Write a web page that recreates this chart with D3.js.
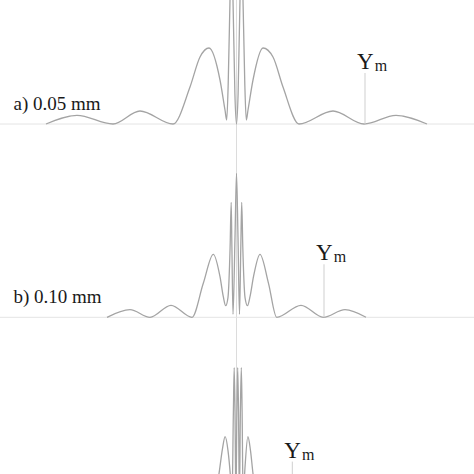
<!DOCTYPE html>
<html>
<head>
<meta charset="utf-8">
<script src="https://cdn.jsdelivr.net/npm/d3@7"></script>
<style>
  body { margin: 0; background: #fff; }
  svg { display: block; }
</style>
</head>
<body>
<script>
const d3 = window.d3

// position from the centre line, intensity above the panel baseline
// a) 0.05 mm
const posA = [-190.5, -159.5, -123.5, -96.5, -63.5, -46.5, -36.5, -27.5, -16.5, -11.5, -9.8, -8.3, -6.5, -5, -3.5, -1.6, 0,
  1.6, 3.5, 5, 6.5, 8.3, 9.8, 11.5, 16.5, 26.5, 36.5, 46.5, 62.5, 96.5, 127.5, 159.5, 190.5]
const intA = [0, 8.7, 0, 13, 0, 37, 67, 76, 44, 14, 4, 40, 124, 165, 124, 30, 0,
  30, 124, 165, 124, 40, 4, 14, 44, 76, 67, 37, 0, 13, 0, 8.7, 0]

// b) 0.10 mm
const posB = [-129.5, -106.5, -86.5, -65.5, -44.5, -33.2, -23.2, -16.5, -13.2, -10.8, -8.5, -6.4, -5.3, -4.6, -3.5, -1.5, 0,
  1.5, 3, 4.3, 5.2, 6.3, 8.5, 11, 13.5, 17, 23.5, 32, 40.2, 64.5, 86.8, 108.5, 129.5]
const intB = [0, 7.6, 0, 12, 0, 34, 63, 40.6, 20.6, 11.6, 20, 70, 115, 70, 3, 80, 144,
  80, 3, 70, 115, 70, 20, 11.6, 20.6, 40.6, 63, 34, 0, 12, 0, 7.6, 0]

// c) third slit width, only the top of it is in the picture
const posC = [-24, -17.5, -14, -11.4, -8.5, -6.2, -4.5, -3.1, -2.3, -1.5, -0.6, 0.4, 1.2, 2, 2.9, 3.9, 4.8, 5.6, 6.6,
  8.3, 11.4, 14, 16.5, 24]
const intC = [0, 37, 62, 74, 60, 36, 10, 100, 143, 100, 10, 100, 143, 100, 10, 100, 143, 100, 12,
  40, 74, 60, 37, 0]

const panelLabels = ['a) 0.05 mm', 'b) 0.10 mm']
const ymPos = [128.5, 87.5, 55.8]
const ymHeight = [51, 53, 49]

const width = 474
const height = 474
const baselines = [124, 317.3, 510.6] // pixels

const svg = d3.select('body').append('svg')
  .attr('width', width).attr('height', height)

const x = d3.scaleLinear().domain([-200, 200]).range([36.5, 436.5])

// centre line running through all three panels
svg.append('line')
  .attr('x1', x(0)).attr('x2', x(0))
  .attr('y1', 0).attr('y2', height)
  .attr('stroke', '#dcdcdc').attr('stroke-width', 1)

const panels = [
  { pos: posA, val: intA },
  { pos: posB, val: intB },
  { pos: posC, val: intC }
]

panels.forEach((p, i) => {
  const y = d3.scaleLinear().domain([0, 100]).range([baselines[i], baselines[i] - 100])
  const g = svg.append('g')

  g.append('line')
    .attr('x1', 0).attr('x2', width)
    .attr('y1', y(0)).attr('y2', y(0))
    .attr('stroke', '#e4e4e4').attr('stroke-width', 1)

  const line = d3.line()
    .x(d => x(d[0]))
    .y(d => y(d[1]))
    .curve(d3.curveMonotoneX)

  g.append('path')
    .datum(d3.zip(p.pos, p.val))
    .attr('d', line)
    .attr('fill', 'none')
    .attr('stroke', '#a4a4a4')
    .attr('stroke-width', 1.3)

  // Ym marker
  g.append('line')
    .attr('x1', x(ymPos[i])).attr('x2', x(ymPos[i]))
    .attr('y1', y(0)).attr('y2', y(ymHeight[i]))
    .attr('stroke', '#cfcfcf').attr('stroke-width', 1)

  const t = g.append('text')
    .attr('x', x(ymPos[i]) - 8)
    .attr('y', y(ymHeight[i]) - 4)
    .attr('font-family', '"Liberation Serif", "DejaVu Serif", serif')
    .attr('font-size', 23)
    .attr('fill', '#1a1a1a')
  t.append('tspan').text('Y')
  t.append('tspan').attr('dx', 1).attr('dy', 2).attr('font-size', 16).text('m')

  if (panelLabels[i]) {
    g.append('text')
      .attr('x', 13.5)
      .attr('y', y(0) - 14.5)
      .attr('font-family', '"Liberation Serif", "DejaVu Serif", serif')
      .attr('font-size', 19)
      .attr('fill', '#1a1a1a')
      .text(panelLabels[i])
  }
})
</script>
</body>
</html>
